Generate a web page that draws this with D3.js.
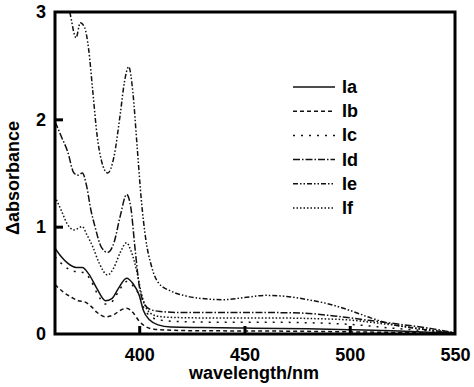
<!DOCTYPE html>
<html>
<head>
<meta charset="utf-8">
<script src="https://cdn.jsdelivr.net/npm/d3@7"></script>
<style>
  body { margin: 0; background: #fff; }
  text { font-family: "Liberation Sans", Arial, sans-serif; font-weight: bold; fill: #000; }
</style>
</head>
<body>
<div id="chart"></div>
<script>
// spectra: [wavelength, delta absorbance]
var seriesNames = ["Ia", "Ib", "Ic", "Id", "Ie", "If"];

var Ia = [[360,0.80],[363,0.72],[366,0.66],[370,0.62],[373,0.62],[376,0.56],[380,0.42],[384,0.31],[387,0.33],[390,0.42],[394,0.52],[397,0.47],[400,0.36],[402,0.22],[405,0.13],[409,0.085],[415,0.065],[430,0.06],[450,0.055],[480,0.048],[500,0.04],[520,0.03],[540,0.015],[550,0.01]];
var Ib = [[360,0.46],[364,0.39],[368,0.34],[371,0.31],[374,0.30],[377,0.26],[380,0.20],[384,0.16],[388,0.18],[391,0.22],[394,0.24],[397,0.20],[400,0.12],[403,0.07],[407,0.045],[415,0.035],[430,0.03],[460,0.028],[500,0.02],[530,0.012],[550,0.005]];
var Ic = [[360,0.72],[364,0.64],[368,0.59],[371,0.58],[374,0.57],[377,0.50],[380,0.38],[384,0.28],[387,0.30],[390,0.39],[394,0.49],[397,0.45],[400,0.36],[402,0.25],[405,0.17],[410,0.13],[420,0.115],[440,0.11],[460,0.11],[480,0.105],[500,0.09],[520,0.055],[540,0.025],[550,0.01]];
var Id = [[360,1.98],[363,1.84],[366,1.70],[369,1.50],[371,1.48],[373,1.50],[375,1.38],[377,1.16],[379,1.00],[382,0.81],[385,0.76],[388,0.85],[391,1.10],[394,1.30],[396,1.18],[398,0.80],[400,0.45],[402,0.30],[405,0.23],[410,0.21],[420,0.20],[440,0.20],[460,0.20],[477,0.195],[496,0.16],[510,0.125],[520,0.10],[539,0.05],[550,0.01]];
var Ie = [[360,3.5],[365,3.15],[367,3.0],[370,2.76],[372,2.9],[374,2.86],[376,2.65],[378,2.25],[380,1.85],[382,1.62],[385,1.50],[388,1.65],[391,2.05],[393,2.35],[395,2.49],[397,2.25],[399,1.75],[401,1.25],[403,0.90],[406,0.62],[409,0.48],[415,0.40],[421,0.36],[430,0.33],[440,0.32],[450,0.34],[460,0.36],[470,0.35],[480,0.32],[490,0.28],[500,0.22],[510,0.15],[520,0.09],[530,0.055],[540,0.03],[550,0.01]];
var If = [[360,1.28],[363,1.15],[366,1.02],[369,0.97],[373,1.00],[375,0.93],[378,0.81],[381,0.66],[385,0.55],[388,0.62],[391,0.76],[394,0.85],[396,0.78],[399,0.57],[401,0.38],[404,0.22],[408,0.17],[415,0.155],[430,0.15],[460,0.15],[480,0.145],[500,0.13],[520,0.085],[540,0.035],[550,0.01]];

var seriesData = [Ia, Ib, Ic, Id, Ie, If];
var dashes = ["", "4,3", "2,6", "7,2,1.5,2", "5,2,1.5,2,1.5,2", "1.5,2"];

var xTicks = [400, 450, 500, 550];
var yTicks = [0, 1, 2, 3];

var width = 474, height = 387;
var margin = {left: 55, right: 19, top: 12, bottom: 53};

var svg = d3.select('#chart').append('svg')
  .attr('width', width)
  .attr('height', height);

var x = d3.scaleLinear().domain([360, 550]).range([margin.left, width - margin.right]);
var y = d3.scaleLinear().domain([0, 3]).range([height - margin.bottom, margin.top]);

svg.append('clipPath').attr('id', 'clip')
  .append('rect')
  .attr('x', x(360)).attr('y', y(3))
  .attr('width', x(550) - x(360)).attr('height', y(0) - y(3));

var line = d3.line()
  .x(d => x(d[0]))
  .y(d => y(d[1]))
  .curve(d3.curveMonotoneX);

svg.append('g').attr('clip-path', 'url(#clip)')
  .selectAll('path')
  .data(seriesData)
  .enter()
  .append('path')
  .attr('d', line)
  .attr('fill', 'none')
  .attr('stroke', '#111')
  .attr('stroke-width', 1.5)
  .attr('stroke-dasharray', (d, i) => dashes[i]);

// frame
svg.append('rect')
  .attr('x', x(360)).attr('y', y(3))
  .attr('width', x(550) - x(360)).attr('height', y(0) - y(3))
  .attr('fill', 'none')
  .attr('stroke', '#000')
  .attr('stroke-width', 3);

// axes with inward ticks
var xAxis = d3.axisBottom(x).tickValues(xTicks).tickSize(-8).tickPadding(14);
var gx = svg.append('g').attr('transform', 'translate(0,' + y(0) + ')').call(xAxis);
var yAxis = d3.axisLeft(y).tickValues(yTicks).tickSize(-8).tickPadding(9).tickFormat(d3.format('d'));
var gy = svg.append('g').attr('transform', 'translate(' + x(360) + ',0)').call(yAxis);

[gx, gy].forEach(function(g) {
  g.select('.domain').remove();
  g.selectAll('line').attr('stroke', '#000').attr('stroke-width', 3);
  g.selectAll('text').style('font-size', '18px').style('font-weight', 'bold')
    .style('font-family', '"Liberation Sans", Arial, sans-serif');
});
gy.selectAll('.tick').filter(d => d == 0 || d == 3).select('line').remove();
gx.selectAll('.tick').filter(d => d == 550).select('line').remove();

// axis titles
svg.append('text')
  .attr('x', 254).attr('y', 379)
  .attr('text-anchor', 'middle')
  .style('font-size', '18px')
  .text('wavelength/nm');

svg.append('text')
  .attr('transform', 'translate(19,178) rotate(-90)')
  .attr('text-anchor', 'middle')
  .style('font-size', '18px')
  .text('Δabsorbance');

// legend
var legendY = d3.scalePoint().domain(seriesNames).range([87, 208]);
var legend = svg.append('g').selectAll('g')
  .data(seriesNames)
  .enter()
  .append('g')
  .attr('transform', d => 'translate(0,' + legendY(d) + ')');

legend.append('line')
  .attr('x1', 293).attr('x2', 335)
  .attr('stroke', '#111')
  .attr('stroke-width', 1.5)
  .attr('stroke-dasharray', (d, i) => dashes[i]);

legend.append('text')
  .attr('x', 342).attr('y', 6)
  .style('font-size', '18px')
  .text(d => d);
</script>
</body>
</html>
